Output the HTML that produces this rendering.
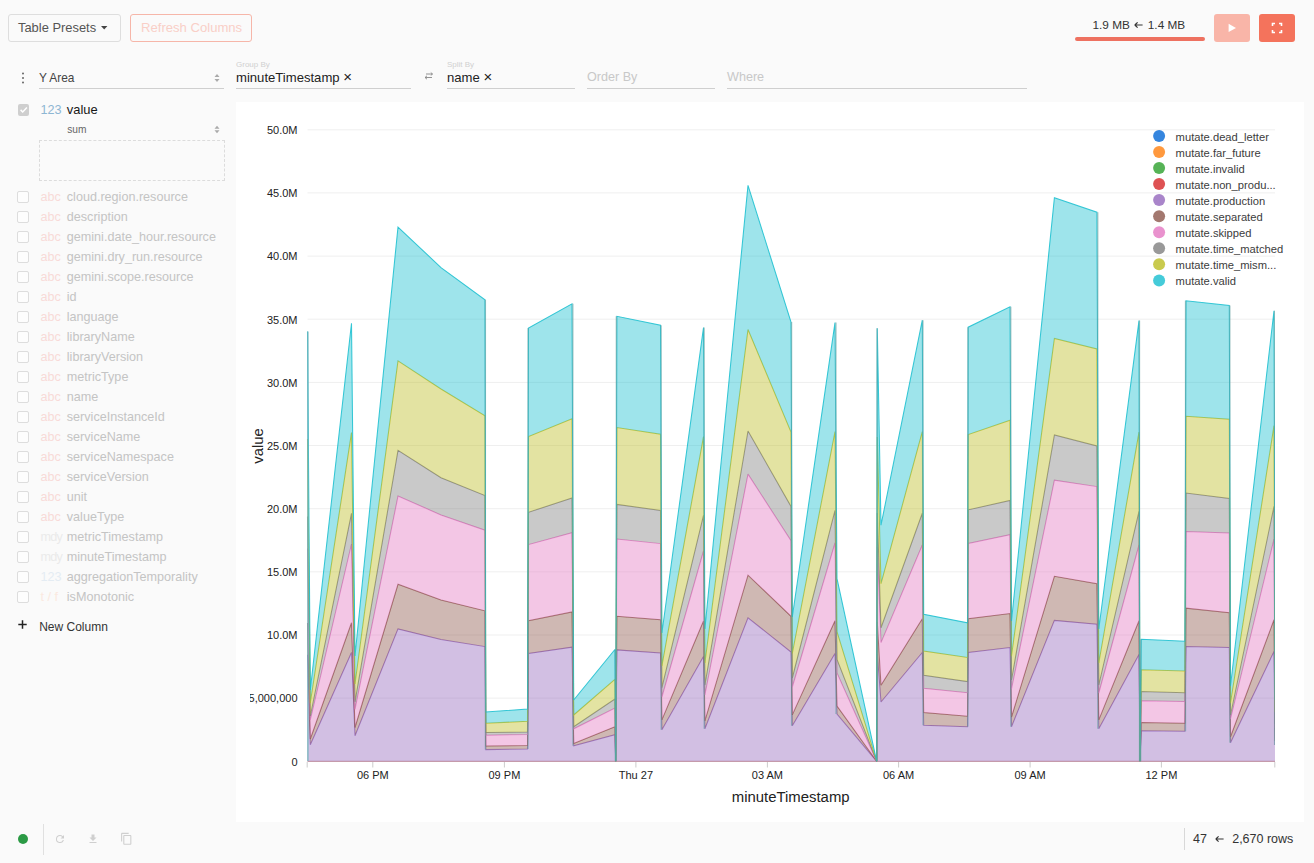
<!DOCTYPE html>
<html><head><meta charset="utf-8"><title>Perspective</title>
<style>
html,body{margin:0;padding:0}
body{width:1314px;height:863px;overflow:hidden;background:#fafafa;font-family:"Liberation Sans",sans-serif;position:relative;color:#333}
.abs,.cb,.ty,.cn{position:absolute}
#chartbg{position:absolute;left:236px;top:101.5px;width:1068px;height:720.5px;background:#fff}
.ax{font-family:"Liberation Sans",sans-serif;font-size:11px;fill:#222}
.ttl{font-family:"Liberation Sans",sans-serif;font-size:14.9px;fill:#222}
.lg{font-family:"Liberation Sans",sans-serif;font-size:11.2px;fill:#3c3c3c}
.btn{position:absolute;box-sizing:border-box;top:14px;height:27.6px;border-radius:3px;font-size:12.9px;line-height:25px;white-space:nowrap}
.cb{left:17.2px;width:9.5px;height:9.5px;border:1px solid #dddddd;border-radius:2px;background:#fdfdfd}
.ty{left:40.5px;font-size:12.6px;line-height:16px;white-space:nowrap}
.cn{left:66.8px;font-size:12.6px;line-height:16px;color:#c4c4c4;white-space:nowrap}
.tabc{color:#f8dad8} .tmdy{color:#eaeaea;letter-spacing:-0.8px} .t123{color:#e4ecf3} .ttf{color:#fbe9e0}
.ul{position:absolute;height:1px;background:#cfcfcf}
.lab{position:absolute;font-size:8px;color:#d0d0d0;white-space:nowrap;line-height:10px}
.pill{position:absolute;font-size:13.1px;color:#222;white-space:nowrap;line-height:16px}
.ph{position:absolute;font-size:12.6px;color:#c8c8c8;white-space:nowrap;line-height:16px}
</style></head><body>
<div id="chartbg"></div>
<!-- top bar -->
<div class="btn" style="left:7.5px;width:113px;border:1px solid #dedede;color:#555;padding-left:9.5px">Table Presets<svg width="7" height="4" style="display:inline-block;margin-left:5px;vertical-align:2px"><path d="M0,0 H6.4 L3.2,3.6 Z" fill="#444"/></svg></div>
<div class="btn" style="left:130px;width:122px;border:1px solid #f6b6a9;color:#f9cfc7;padding-left:10px;font-size:13.1px">Refresh Columns</div>
<div class="abs" style="left:1092.5px;top:17px;font-size:11.8px;color:#333;white-space:nowrap;line-height:16px">1.9 MB <svg width="9" height="8" viewBox="0 0 9 8" style="display:inline-block;vertical-align:0px;margin:0 1.2px"><path d="M0.8,4 H8.6 M0.8,4 L3.6,1.4 M0.8,4 L3.6,6.6" stroke="#333" stroke-width="1.2" fill="none"/></svg> 1.4 MB</div>
<div class="abs" style="left:1075px;top:37px;width:130px;height:4px;border-radius:2px;background:#ee7160"></div>
<div class="abs" style="left:1214px;top:14px;width:36px;height:28px;border-radius:3px;background:#f9b5a8"><svg width="36" height="28" style="position:absolute;left:0;top:0"><path d="M14.6,9.8 L22,13.9 L14.6,18 Z" fill="#fff"/></svg></div>
<div class="abs" style="left:1259px;top:14px;width:36px;height:28px;border-radius:3px;background:#f4735c"><svg width="36" height="28" style="position:absolute;left:0;top:0"><path d="M13.5,12 V9.5 H16 M20,9.5 H22.5 V12 M22.5,16 V18.5 H20 M16,18.5 H13.5 V16" fill="none" stroke="#fff" stroke-width="1.6"/></svg></div>
<!-- config row -->
<svg class="abs" style="left:20px;top:72px" width="6" height="12"><circle cx="3" cy="1.5" r="1" fill="#666"/><circle cx="3" cy="6" r="1" fill="#666"/><circle cx="3" cy="10.5" r="1" fill="#666"/></svg>
<div class="pill" style="left:39px;top:69.5px;font-size:11.9px;color:#444">Y Area</div>
<svg class="abs" style="left:214px;top:73px" width="6" height="10"><path d="M0.5,4 L3,1 L5.5,4 Z M0.5,6 L3,9 L5.5,6 Z" fill="#aaa"/></svg>
<div class="ul" style="left:39px;top:88px;width:185px"></div>
<div class="lab" style="left:236px;top:59.5px">Group By</div>
<div class="pill" style="left:236px;top:68.5px">minuteTimestamp <span style="font-size:15px;position:relative;top:0.5px">&#215;</span></div>
<div class="ul" style="left:236px;top:88px;width:175px"></div>
<svg class="abs" style="left:423px;top:71px" width="11" height="10"><path d="M2,6.5 H9 M2,6.5 L4,4.8 M2,6.5 L4,8.2" stroke="#888" stroke-width="0.9" fill="none"/><path d="M3,3 H9.5 M9.5,3 L7.8,1.6 M9.5,3 L7.8,4.4" stroke="#888" stroke-width="0.9" fill="none"/></svg>
<div class="lab" style="left:447px;top:59.5px">Split By</div>
<div class="pill" style="left:447px;top:68.5px">name <span style="font-size:15px;position:relative;top:0.5px">&#215;</span></div>
<div class="ul" style="left:447px;top:88px;width:127.5px"></div>
<div class="ph" style="left:587px;top:68.5px">Order By</div>
<div class="ul" style="left:587px;top:88px;width:127.5px"></div>
<div class="ph" style="left:727px;top:68.5px">Where</div>
<div class="ul" style="left:727px;top:88px;width:300px"></div>
<!-- active column -->
<div class="abs" style="left:17.5px;top:104.3px;width:11.4px;height:11.4px;border-radius:2px;background:#cfcfcf"><svg width="11.4" height="11.4" style="position:absolute;left:0;top:0"><path d="M2.6,5.9 L4.7,8 L8.9,3.5" fill="none" stroke="#fff" stroke-width="1.5"/></svg></div>
<div class="ty" style="top:101.7px;color:#8db6d3">123</div>
<div class="cn" style="top:101.7px;color:#161616;font-size:12.9px">value</div>
<div class="abs" style="left:67.2px;top:123px;font-size:10.2px;color:#666;line-height:13px">sum</div>
<svg class="abs" style="left:213.5px;top:125px" width="6" height="9"><path d="M0.5,3.7 L3,0.8 L5.5,3.7 Z M0.5,5.3 L3,8.2 L5.5,5.3 Z" fill="#aaa"/></svg>
<div class="abs" style="left:39px;top:140.3px;width:183.5px;height:38.3px;border:1px dashed #dcdcdc"></div>
<div class="cb" style="top:191.0px"></div><div class="ty tabc" style="top:188.5px">abc</div><div class="cn" style="top:188.5px">cloud.region.resource</div><div class="cb" style="top:211.0px"></div><div class="ty tabc" style="top:208.5px">abc</div><div class="cn" style="top:208.5px">description</div><div class="cb" style="top:231.0px"></div><div class="ty tabc" style="top:228.5px">abc</div><div class="cn" style="top:228.5px">gemini.date_hour.resource</div><div class="cb" style="top:251.0px"></div><div class="ty tabc" style="top:248.5px">abc</div><div class="cn" style="top:248.5px">gemini.dry_run.resource</div><div class="cb" style="top:271.0px"></div><div class="ty tabc" style="top:268.5px">abc</div><div class="cn" style="top:268.5px">gemini.scope.resource</div><div class="cb" style="top:291.0px"></div><div class="ty tabc" style="top:288.5px">abc</div><div class="cn" style="top:288.5px">id</div><div class="cb" style="top:311.0px"></div><div class="ty tabc" style="top:308.5px">abc</div><div class="cn" style="top:308.5px">language</div><div class="cb" style="top:331.0px"></div><div class="ty tabc" style="top:328.5px">abc</div><div class="cn" style="top:328.5px">libraryName</div><div class="cb" style="top:351.0px"></div><div class="ty tabc" style="top:348.5px">abc</div><div class="cn" style="top:348.5px">libraryVersion</div><div class="cb" style="top:371.0px"></div><div class="ty tabc" style="top:368.5px">abc</div><div class="cn" style="top:368.5px">metricType</div><div class="cb" style="top:391.0px"></div><div class="ty tabc" style="top:388.5px">abc</div><div class="cn" style="top:388.5px">name</div><div class="cb" style="top:411.0px"></div><div class="ty tabc" style="top:408.5px">abc</div><div class="cn" style="top:408.5px">serviceInstanceId</div><div class="cb" style="top:431.0px"></div><div class="ty tabc" style="top:428.5px">abc</div><div class="cn" style="top:428.5px">serviceName</div><div class="cb" style="top:451.0px"></div><div class="ty tabc" style="top:448.5px">abc</div><div class="cn" style="top:448.5px">serviceNamespace</div><div class="cb" style="top:471.0px"></div><div class="ty tabc" style="top:468.5px">abc</div><div class="cn" style="top:468.5px">serviceVersion</div><div class="cb" style="top:491.0px"></div><div class="ty tabc" style="top:488.5px">abc</div><div class="cn" style="top:488.5px">unit</div><div class="cb" style="top:511.0px"></div><div class="ty tabc" style="top:508.5px">abc</div><div class="cn" style="top:508.5px">valueType</div><div class="cb" style="top:531.0px"></div><div class="ty tmdy" style="top:528.5px">mdy</div><div class="cn" style="top:528.5px">metricTimestamp</div><div class="cb" style="top:551.0px"></div><div class="ty tmdy" style="top:548.5px">mdy</div><div class="cn" style="top:548.5px">minuteTimestamp</div><div class="cb" style="top:571.0px"></div><div class="ty t123" style="top:568.5px">123</div><div class="cn" style="top:568.5px">aggregationTemporality</div><div class="cb" style="top:591.0px"></div><div class="ty ttf" style="top:588.5px">t / f</div><div class="cn" style="top:588.5px">isMonotonic</div>
<svg class="abs" style="left:17.5px;top:619.5px" width="9" height="9"><path d="M4.5,0.3 V8.7 M0.3,4.5 H8.7" stroke="#222" stroke-width="1.5"/></svg>
<div class="abs" style="left:39.2px;top:618.6px;font-size:12px;line-height:16px;color:#333;white-space:nowrap">New Column</div>
<!-- status bar -->
<div class="abs" style="left:18px;top:833.6px;width:10.2px;height:10.2px;border-radius:50%;background:#2b9a45"></div>
<div class="abs" style="left:43px;top:824px;width:1px;height:31px;background:#e0e0e0"></div>
<svg class="abs" style="left:54px;top:832.7px" width="12" height="12" viewBox="0 0 24 24"><path d="M17.65 6.35A7.95 7.95 0 0 0 12 4a8 8 0 1 0 7.73 10h-2.08A6 6 0 1 1 12 6c1.66 0 3.14.69 4.22 1.78L13 11h7V4l-2.35 2.35z" fill="#cfcfcf"/></svg>
<svg class="abs" style="left:86.8px;top:832.7px" width="12" height="12" viewBox="0 0 24 24"><path d="M19 9h-4V3H9v6H5l7 7 7-7zM5 18v2h14v-2H5z" fill="#cfcfcf"/></svg>
<svg class="abs" style="left:119.5px;top:832px" width="13" height="13.5" viewBox="0 0 24 24"><path d="M16 1H4c-1.1 0-2 .9-2 2v14h2V3h12V1zm3 4H8c-1.1 0-2 .9-2 2v14c0 1.1.9 2 2 2h11c1.1 0 2-.9 2-2V7c0-1.1-.9-2-2-2zm0 16H8V7h11v14z" fill="#cfcfcf"/></svg>
<div class="abs" style="left:1183.5px;top:828px;width:1px;height:22px;background:#d8d8d8"></div>
<div class="abs" style="left:1193px;top:831px;font-size:12.5px;line-height:16px;color:#333;white-space:pre">47  <svg width="9" height="8" viewBox="0 0 9 8" style="display:inline-block;vertical-align:0px;margin:0 1.2px"><path d="M0.8,4 H8.6 M0.8,4 L3.6,1.4 M0.8,4 L3.6,6.6" stroke="#333" stroke-width="1.1" fill="none"/></svg>  2,670 rows</div>
<svg width="1314" height="863" viewBox="0 0 1314 863" style="position:absolute;left:0;top:0">
<line x1="307.5" x2="1275" y1="698.1" y2="698.1" stroke="#efefef" stroke-width="1"/>
<line x1="307.5" x2="1275" y1="635.0" y2="635.0" stroke="#efefef" stroke-width="1"/>
<line x1="307.5" x2="1275" y1="571.8" y2="571.8" stroke="#efefef" stroke-width="1"/>
<line x1="307.5" x2="1275" y1="508.7" y2="508.7" stroke="#efefef" stroke-width="1"/>
<line x1="307.5" x2="1275" y1="445.5" y2="445.5" stroke="#efefef" stroke-width="1"/>
<line x1="307.5" x2="1275" y1="382.4" y2="382.4" stroke="#efefef" stroke-width="1"/>
<line x1="307.5" x2="1275" y1="319.2" y2="319.2" stroke="#efefef" stroke-width="1"/>
<line x1="307.5" x2="1275" y1="256.1" y2="256.1" stroke="#efefef" stroke-width="1"/>
<line x1="307.5" x2="1275" y1="192.9" y2="192.9" stroke="#efefef" stroke-width="1"/>
<line x1="307.5" x2="1275" y1="129.8" y2="129.8" stroke="#efefef" stroke-width="1"/>
<clipPath id="pc"><rect x="300" y="100" width="975" height="670"/></clipPath><g clip-path="url(#pc)">
<path d="M307.5,761.3 L1275.2,761.3" stroke="#c08a94" stroke-width="1" fill="none"/>
<path d="M307.5,654.7 L310.3,744.7 L351.5,652.5 L355.0,735.8 L398.0,628.9 L441.0,639.6 L485.0,646.6 L485.8,749.6 L527.5,749.0 L528.5,653.5 L572.0,647.2 L573.7,745.7 L614.9,734.8 L615.7,761.3 L616.9,649.9 L660.5,653.1 L661.9,729.8 L703.5,656.5 L704.9,728.8 L748.0,617.8 L791.0,652.0 L792.3,725.8 L835.0,653.5 L837.0,714.0 L876.7,761.3 L877.3,654.0 L881.0,702.0 L922.3,652.5 L923.7,725.2 L967.5,726.8 L968.2,652.5 L1010.0,647.6 L1011.5,726.8 L1054.4,620.4 L1096.9,624.2 L1098.8,728.8 L1139.0,654.5 L1140.0,761.3 L1141.3,730.8 L1184.9,731.2 L1186.0,646.6 L1229.3,647.6 L1230.5,742.7 L1274.0,651.5 L1275.2,745.0 L1275.2,761.3 L1274.0,761.3 L1230.5,761.3 L1229.3,761.3 L1186.0,761.3 L1184.9,761.3 L1141.3,761.3 L1140.0,761.3 L1139.0,761.3 L1098.8,761.3 L1096.9,761.3 L1054.4,761.3 L1011.5,761.3 L1010.0,761.3 L968.2,761.3 L967.5,761.3 L923.7,761.3 L922.3,761.3 L881.0,761.3 L877.3,761.3 L876.7,761.3 L837.0,761.3 L835.0,761.3 L792.3,761.3 L791.0,761.3 L748.0,761.3 L704.9,761.3 L703.5,761.3 L661.9,761.3 L660.5,761.3 L616.9,761.3 L615.7,761.3 L614.9,761.3 L573.7,761.3 L572.0,761.3 L528.5,761.3 L527.5,761.3 L485.8,761.3 L485.0,761.3 L441.0,761.3 L398.0,761.3 L355.0,761.3 L351.5,761.3 L310.3,761.3 L307.5,761.3 Z" fill="#9467bd" fill-opacity="0.42" stroke="none"/>
<path d="M307.5,654.7 L310.3,744.7 L351.5,652.5 L355.0,735.8 L398.0,628.9 L441.0,639.6 L485.0,646.6 L485.8,749.6 L527.5,749.0 L528.5,653.5 L572.0,647.2 L573.7,745.7 L614.9,734.8 L615.7,761.3 L616.9,649.9 L660.5,653.1 L661.9,729.8 L703.5,656.5 L704.9,728.8 L748.0,617.8 L791.0,652.0 L792.3,725.8 L835.0,653.5 L837.0,714.0 L876.7,761.3 L877.3,654.0 L881.0,702.0 L922.3,652.5 L923.7,725.2 L967.5,726.8 L968.2,652.5 L1010.0,647.6 L1011.5,726.8 L1054.4,620.4 L1096.9,624.2 L1098.8,728.8 L1139.0,654.5 L1140.0,761.3 L1141.3,730.8 L1184.9,731.2 L1186.0,646.6 L1229.3,647.6 L1230.5,742.7 L1274.0,651.5 L1275.2,745.0" fill="none" stroke="#9467bd" stroke-opacity="0.85" stroke-width="1.05" stroke-linejoin="miter" stroke-miterlimit="2.5"/>
<path d="M307.5,623.0 L310.3,739.0 L351.5,622.8 L355.0,727.5 L398.0,584.3 L441.0,600.1 L485.0,610.8 L485.8,746.0 L527.5,745.5 L528.5,620.8 L572.0,611.9 L573.7,743.5 L614.9,726.8 L615.7,761.3 L616.9,616.3 L660.5,619.8 L661.9,719.9 L703.5,621.0 L704.9,720.9 L748.0,575.2 L791.0,616.3 L792.3,714.9 L835.0,620.8 L837.0,706.0 L876.7,761.3 L877.3,622.0 L881.0,685.2 L922.3,618.8 L923.7,712.4 L967.5,716.3 L968.2,618.8 L1010.0,613.5 L1011.5,717.0 L1054.4,576.3 L1096.9,583.7 L1098.8,719.9 L1139.0,620.8 L1140.0,761.3 L1141.3,722.5 L1184.9,723.3 L1186.0,608.2 L1229.3,612.7 L1230.5,736.7 L1274.0,619.8 L1275.2,741.0 L1275.2,745.0 L1274.0,651.5 L1230.5,742.7 L1229.3,647.6 L1186.0,646.6 L1184.9,731.2 L1141.3,730.8 L1140.0,761.3 L1139.0,654.5 L1098.8,728.8 L1096.9,624.2 L1054.4,620.4 L1011.5,726.8 L1010.0,647.6 L968.2,652.5 L967.5,726.8 L923.7,725.2 L922.3,652.5 L881.0,702.0 L877.3,654.0 L876.7,761.3 L837.0,714.0 L835.0,653.5 L792.3,725.8 L791.0,652.0 L748.0,617.8 L704.9,728.8 L703.5,656.5 L661.9,729.8 L660.5,653.1 L616.9,649.9 L615.7,761.3 L614.9,734.8 L573.7,745.7 L572.0,647.2 L528.5,653.5 L527.5,749.0 L485.8,749.6 L485.0,646.6 L441.0,639.6 L398.0,628.9 L355.0,735.8 L351.5,652.5 L310.3,744.7 L307.5,654.7 Z" fill="#8c564b" fill-opacity="0.42" stroke="none"/>
<path d="M307.5,623.0 L310.3,739.0 L351.5,622.8 L355.0,727.5 L398.0,584.3 L441.0,600.1 L485.0,610.8 L485.8,746.0 L527.5,745.5 L528.5,620.8 L572.0,611.9 L573.7,743.5 L614.9,726.8 L615.7,761.3 L616.9,616.3 L660.5,619.8 L661.9,719.9 L703.5,621.0 L704.9,720.9 L748.0,575.2 L791.0,616.3 L792.3,714.9 L835.0,620.8 L837.0,706.0 L876.7,761.3 L877.3,622.0 L881.0,685.2 L922.3,618.8 L923.7,712.4 L967.5,716.3 L968.2,618.8 L1010.0,613.5 L1011.5,717.0 L1054.4,576.3 L1096.9,583.7 L1098.8,719.9 L1139.0,620.8 L1140.0,761.3 L1141.3,722.5 L1184.9,723.3 L1186.0,608.2 L1229.3,612.7 L1230.5,736.7 L1274.0,619.8 L1275.2,741.0" fill="none" stroke="#8c564b" stroke-opacity="0.85" stroke-width="1.05" stroke-linejoin="miter" stroke-miterlimit="2.5"/>
<path d="M307.5,548.4 L310.3,720.0 L351.5,544.0 L355.0,709.3 L398.0,496.1 L441.0,514.9 L485.0,530.2 L485.8,735.2 L527.5,734.5 L528.5,544.6 L572.0,532.7 L573.7,728.8 L614.9,708.0 L615.7,761.3 L616.9,539.1 L660.5,543.6 L661.9,697.0 L703.5,551.0 L704.9,695.0 L748.0,474.1 L791.0,540.7 L792.3,687.0 L835.0,543.0 L837.0,673.0 L876.7,761.3 L877.3,547.0 L881.0,642.6 L922.3,545.0 L923.7,688.2 L967.5,692.7 L968.2,543.4 L1010.0,534.7 L1011.5,689.0 L1054.4,480.2 L1096.9,486.6 L1098.8,693.0 L1139.0,545.0 L1140.0,761.3 L1141.3,700.7 L1184.9,701.5 L1186.0,531.6 L1229.3,533.1 L1230.5,719.0 L1274.0,539.1 L1275.2,728.0 L1275.2,741.0 L1274.0,619.8 L1230.5,736.7 L1229.3,612.7 L1186.0,608.2 L1184.9,723.3 L1141.3,722.5 L1140.0,761.3 L1139.0,620.8 L1098.8,719.9 L1096.9,583.7 L1054.4,576.3 L1011.5,717.0 L1010.0,613.5 L968.2,618.8 L967.5,716.3 L923.7,712.4 L922.3,618.8 L881.0,685.2 L877.3,622.0 L876.7,761.3 L837.0,706.0 L835.0,620.8 L792.3,714.9 L791.0,616.3 L748.0,575.2 L704.9,720.9 L703.5,621.0 L661.9,719.9 L660.5,619.8 L616.9,616.3 L615.7,761.3 L614.9,726.8 L573.7,743.5 L572.0,611.9 L528.5,620.8 L527.5,745.5 L485.8,746.0 L485.0,610.8 L441.0,600.1 L398.0,584.3 L355.0,727.5 L351.5,622.8 L310.3,739.0 L307.5,623.0 Z" fill="#e377c2" fill-opacity="0.42" stroke="none"/>
<path d="M307.5,548.4 L310.3,720.0 L351.5,544.0 L355.0,709.3 L398.0,496.1 L441.0,514.9 L485.0,530.2 L485.8,735.2 L527.5,734.5 L528.5,544.6 L572.0,532.7 L573.7,728.8 L614.9,708.0 L615.7,761.3 L616.9,539.1 L660.5,543.6 L661.9,697.0 L703.5,551.0 L704.9,695.0 L748.0,474.1 L791.0,540.7 L792.3,687.0 L835.0,543.0 L837.0,673.0 L876.7,761.3 L877.3,547.0 L881.0,642.6 L922.3,545.0 L923.7,688.2 L967.5,692.7 L968.2,543.4 L1010.0,534.7 L1011.5,689.0 L1054.4,480.2 L1096.9,486.6 L1098.8,693.0 L1139.0,545.0 L1140.0,761.3 L1141.3,700.7 L1184.9,701.5 L1186.0,531.6 L1229.3,533.1 L1230.5,719.0 L1274.0,539.1 L1275.2,728.0" fill="none" stroke="#e377c2" stroke-opacity="0.85" stroke-width="1.05" stroke-linejoin="miter" stroke-miterlimit="2.5"/>
<path d="M307.5,516.5 L310.3,716.0 L351.5,513.3 L355.0,701.8 L398.0,450.3 L441.0,477.7 L485.0,495.5 L485.8,732.4 L527.5,732.0 L528.5,512.3 L572.0,497.9 L573.7,726.8 L614.9,699.1 L615.7,761.3 L616.9,504.4 L660.5,510.4 L661.9,687.7 L703.5,515.3 L704.9,685.0 L748.0,431.0 L791.0,506.4 L792.3,678.0 L835.0,510.4 L837.0,659.5 L876.7,761.3 L877.3,513.0 L881.0,627.7 L922.3,513.3 L923.7,675.3 L967.5,681.6 L968.2,509.8 L1010.0,500.4 L1011.5,680.0 L1054.4,435.0 L1096.9,446.0 L1098.8,685.0 L1139.0,511.3 L1140.0,761.3 L1141.3,691.6 L1184.9,692.7 L1186.0,493.1 L1229.3,498.5 L1230.5,715.0 L1274.0,506.4 L1275.2,724.0 L1275.2,728.0 L1274.0,539.1 L1230.5,719.0 L1229.3,533.1 L1186.0,531.6 L1184.9,701.5 L1141.3,700.7 L1140.0,761.3 L1139.0,545.0 L1098.8,693.0 L1096.9,486.6 L1054.4,480.2 L1011.5,689.0 L1010.0,534.7 L968.2,543.4 L967.5,692.7 L923.7,688.2 L922.3,545.0 L881.0,642.6 L877.3,547.0 L876.7,761.3 L837.0,673.0 L835.0,543.0 L792.3,687.0 L791.0,540.7 L748.0,474.1 L704.9,695.0 L703.5,551.0 L661.9,697.0 L660.5,543.6 L616.9,539.1 L615.7,761.3 L614.9,708.0 L573.7,728.8 L572.0,532.7 L528.5,544.6 L527.5,734.5 L485.8,735.2 L485.0,530.2 L441.0,514.9 L398.0,496.1 L355.0,709.3 L351.5,544.0 L310.3,720.0 L307.5,548.4 Z" fill="#7f7f7f" fill-opacity="0.42" stroke="none"/>
<path d="M307.5,516.5 L310.3,716.0 L351.5,513.3 L355.0,701.8 L398.0,450.3 L441.0,477.7 L485.0,495.5 L485.8,732.4 L527.5,732.0 L528.5,512.3 L572.0,497.9 L573.7,726.8 L614.9,699.1 L615.7,761.3 L616.9,504.4 L660.5,510.4 L661.9,687.7 L703.5,515.3 L704.9,685.0 L748.0,431.0 L791.0,506.4 L792.3,678.0 L835.0,510.4 L837.0,659.5 L876.7,761.3 L877.3,513.0 L881.0,627.7 L922.3,513.3 L923.7,675.3 L967.5,681.6 L968.2,509.8 L1010.0,500.4 L1011.5,680.0 L1054.4,435.0 L1096.9,446.0 L1098.8,685.0 L1139.0,511.3 L1140.0,761.3 L1141.3,691.6 L1184.9,692.7 L1186.0,493.1 L1229.3,498.5 L1230.5,715.0 L1274.0,506.4 L1275.2,724.0" fill="none" stroke="#7f7f7f" stroke-opacity="0.85" stroke-width="1.05" stroke-linejoin="miter" stroke-miterlimit="2.5"/>
<path d="M307.5,439.0 L310.3,703.0 L351.5,432.6 L355.0,684.0 L398.0,360.9 L441.0,389.0 L485.0,415.8 L485.8,723.3 L527.5,721.3 L528.5,436.6 L572.0,418.7 L573.7,715.0 L614.9,679.3 L615.7,761.3 L616.9,427.6 L660.5,434.2 L661.9,665.8 L703.5,436.6 L704.9,663.0 L748.0,329.5 L791.0,432.0 L792.3,653.5 L835.0,431.6 L837.0,631.7 L876.7,761.3 L877.3,437.0 L881.0,583.7 L922.3,431.6 L923.7,651.1 L967.5,657.5 L968.2,434.6 L1010.0,420.3 L1011.5,656.0 L1054.4,338.5 L1096.9,349.0 L1098.8,663.0 L1139.0,432.2 L1140.0,761.3 L1141.3,669.8 L1184.9,671.0 L1186.0,416.3 L1229.3,419.3 L1230.5,703.0 L1274.0,425.7 L1275.2,712.0 L1275.2,724.0 L1274.0,506.4 L1230.5,715.0 L1229.3,498.5 L1186.0,493.1 L1184.9,692.7 L1141.3,691.6 L1140.0,761.3 L1139.0,511.3 L1098.8,685.0 L1096.9,446.0 L1054.4,435.0 L1011.5,680.0 L1010.0,500.4 L968.2,509.8 L967.5,681.6 L923.7,675.3 L922.3,513.3 L881.0,627.7 L877.3,513.0 L876.7,761.3 L837.0,659.5 L835.0,510.4 L792.3,678.0 L791.0,506.4 L748.0,431.0 L704.9,685.0 L703.5,515.3 L661.9,687.7 L660.5,510.4 L616.9,504.4 L615.7,761.3 L614.9,699.1 L573.7,726.8 L572.0,497.9 L528.5,512.3 L527.5,732.0 L485.8,732.4 L485.0,495.5 L441.0,477.7 L398.0,450.3 L355.0,701.8 L351.5,513.3 L310.3,716.0 L307.5,516.5 Z" fill="#bcbd22" fill-opacity="0.42" stroke="none"/>
<path d="M307.5,439.0 L310.3,703.0 L351.5,432.6 L355.0,684.0 L398.0,360.9 L441.0,389.0 L485.0,415.8 L485.8,723.3 L527.5,721.3 L528.5,436.6 L572.0,418.7 L573.7,715.0 L614.9,679.3 L615.7,761.3 L616.9,427.6 L660.5,434.2 L661.9,665.8 L703.5,436.6 L704.9,663.0 L748.0,329.5 L791.0,432.0 L792.3,653.5 L835.0,431.6 L837.0,631.7 L876.7,761.3 L877.3,437.0 L881.0,583.7 L922.3,431.6 L923.7,651.1 L967.5,657.5 L968.2,434.6 L1010.0,420.3 L1011.5,656.0 L1054.4,338.5 L1096.9,349.0 L1098.8,663.0 L1139.0,432.2 L1140.0,761.3 L1141.3,669.8 L1184.9,671.0 L1186.0,416.3 L1229.3,419.3 L1230.5,703.0 L1274.0,425.7 L1275.2,712.0" fill="none" stroke="#bcbd22" stroke-opacity="0.85" stroke-width="1.05" stroke-linejoin="miter" stroke-miterlimit="2.5"/>
<path d="M307.5,331.5 L310.3,690.0 L351.5,323.2 L355.0,656.0 L398.0,227.0 L441.0,267.6 L485.0,299.8 L485.8,712.0 L527.5,709.0 L528.5,328.0 L572.0,303.8 L573.7,700.0 L614.9,649.5 L615.7,761.3 L616.9,316.3 L660.5,325.2 L661.9,633.0 L703.5,327.6 L704.9,629.0 L748.0,185.4 L791.0,322.0 L792.3,617.0 L835.0,322.6 L837.0,578.7 L876.7,761.3 L877.3,328.2 L881.0,525.2 L922.3,320.2 L923.7,614.3 L967.5,622.8 L968.2,327.2 L1010.0,306.8 L1011.5,621.0 L1054.4,197.7 L1096.9,212.2 L1098.8,629.0 L1139.0,320.6 L1140.0,761.3 L1141.3,639.2 L1184.9,641.2 L1186.0,300.8 L1229.3,305.4 L1230.5,686.0 L1274.0,310.7 L1275.2,700.0 L1275.2,712.0 L1274.0,425.7 L1230.5,703.0 L1229.3,419.3 L1186.0,416.3 L1184.9,671.0 L1141.3,669.8 L1140.0,761.3 L1139.0,432.2 L1098.8,663.0 L1096.9,349.0 L1054.4,338.5 L1011.5,656.0 L1010.0,420.3 L968.2,434.6 L967.5,657.5 L923.7,651.1 L922.3,431.6 L881.0,583.7 L877.3,437.0 L876.7,761.3 L837.0,631.7 L835.0,431.6 L792.3,653.5 L791.0,432.0 L748.0,329.5 L704.9,663.0 L703.5,436.6 L661.9,665.8 L660.5,434.2 L616.9,427.6 L615.7,761.3 L614.9,679.3 L573.7,715.0 L572.0,418.7 L528.5,436.6 L527.5,721.3 L485.8,723.3 L485.0,415.8 L441.0,389.0 L398.0,360.9 L355.0,684.0 L351.5,432.6 L310.3,703.0 L307.5,439.0 Z" fill="#17becf" fill-opacity="0.42" stroke="none"/>
<path d="M307.5,331.5 L310.3,690.0 L351.5,323.2 L355.0,656.0 L398.0,227.0 L441.0,267.6 L485.0,299.8 L485.8,712.0 L527.5,709.0 L528.5,328.0 L572.0,303.8 L573.7,700.0 L614.9,649.5 L615.7,761.3 L616.9,316.3 L660.5,325.2 L661.9,633.0 L703.5,327.6 L704.9,629.0 L748.0,185.4 L791.0,322.0 L792.3,617.0 L835.0,322.6 L837.0,578.7 L876.7,761.3 L877.3,328.2 L881.0,525.2 L922.3,320.2 L923.7,614.3 L967.5,622.8 L968.2,327.2 L1010.0,306.8 L1011.5,621.0 L1054.4,197.7 L1096.9,212.2 L1098.8,629.0 L1139.0,320.6 L1140.0,761.3 L1141.3,639.2 L1184.9,641.2 L1186.0,300.8 L1229.3,305.4 L1230.5,686.0 L1274.0,310.7 L1275.2,700.0" fill="none" stroke="#17becf" stroke-opacity="0.85" stroke-width="1.05" stroke-linejoin="miter" stroke-miterlimit="2.5"/>
<path d="M485.4,299.8 V749.6" stroke="#5f9a9a" stroke-opacity="0.55" stroke-width="1.3" fill="none"/>
<path d="M528.0,328.0 V749.0" stroke="#5f9a9a" stroke-opacity="0.55" stroke-width="1.3" fill="none"/>
<path d="M572.9,303.8 V745.7" stroke="#5f9a9a" stroke-opacity="0.55" stroke-width="1.3" fill="none"/>
<path d="M615.3,649.5 V761.3" stroke="#5f9a9a" stroke-opacity="0.55" stroke-width="1.3" fill="none"/>
<path d="M616.3,316.3 V761.3" stroke="#5f9a9a" stroke-opacity="0.55" stroke-width="1.3" fill="none"/>
<path d="M661.2,325.2 V729.8" stroke="#5f9a9a" stroke-opacity="0.55" stroke-width="1.3" fill="none"/>
<path d="M704.2,327.6 V728.8" stroke="#5f9a9a" stroke-opacity="0.55" stroke-width="1.3" fill="none"/>
<path d="M791.6,322.0 V725.8" stroke="#5f9a9a" stroke-opacity="0.55" stroke-width="1.3" fill="none"/>
<path d="M836.0,322.6 V714.0" stroke="#5f9a9a" stroke-opacity="0.55" stroke-width="1.3" fill="none"/>
<path d="M877.0,328.2 V761.3" stroke="#5f9a9a" stroke-opacity="0.55" stroke-width="1.3" fill="none"/>
<path d="M923.0,320.2 V725.2" stroke="#5f9a9a" stroke-opacity="0.55" stroke-width="1.3" fill="none"/>
<path d="M967.9,327.2 V726.8" stroke="#5f9a9a" stroke-opacity="0.55" stroke-width="1.3" fill="none"/>
<path d="M1010.8,306.8 V726.8" stroke="#5f9a9a" stroke-opacity="0.55" stroke-width="1.3" fill="none"/>
<path d="M1097.8,212.2 V728.8" stroke="#5f9a9a" stroke-opacity="0.55" stroke-width="1.3" fill="none"/>
<path d="M1139.5,320.6 V761.3" stroke="#5f9a9a" stroke-opacity="0.55" stroke-width="1.3" fill="none"/>
<path d="M1140.7,639.2 V761.3" stroke="#5f9a9a" stroke-opacity="0.55" stroke-width="1.3" fill="none"/>
<path d="M1185.5,300.8 V731.2" stroke="#5f9a9a" stroke-opacity="0.55" stroke-width="1.3" fill="none"/>
<path d="M1229.9,305.4 V742.7" stroke="#5f9a9a" stroke-opacity="0.55" stroke-width="1.3" fill="none"/>
<path d="M1274.6,310.7 V745.0" stroke="#5f9a9a" stroke-opacity="0.55" stroke-width="1.3" fill="none"/>
<path d="M307.9,331.5 V761" stroke="#6fb2ba" stroke-width="1.2" fill="none"/>
</g>
<line x1="307.2" x2="307.2" y1="762" y2="767.5" stroke="#cccccc" stroke-width="1"/>
<line x1="372.8" x2="372.8" y1="762" y2="767.5" stroke="#cccccc" stroke-width="1"/>
<text x="372.8" y="779.3" text-anchor="middle" class="ax">06 PM</text>
<line x1="504.4" x2="504.4" y1="762" y2="767.5" stroke="#cccccc" stroke-width="1"/>
<text x="504.4" y="779.3" text-anchor="middle" class="ax">09 PM</text>
<line x1="635.9" x2="635.9" y1="762" y2="767.5" stroke="#cccccc" stroke-width="1"/>
<text x="635.9" y="779.3" text-anchor="middle" class="ax">Thu 27</text>
<line x1="767.4" x2="767.4" y1="762" y2="767.5" stroke="#cccccc" stroke-width="1"/>
<text x="767.4" y="779.3" text-anchor="middle" class="ax">03 AM</text>
<line x1="898.6" x2="898.6" y1="762" y2="767.5" stroke="#cccccc" stroke-width="1"/>
<text x="898.6" y="779.3" text-anchor="middle" class="ax">06 AM</text>
<line x1="1030.1" x2="1030.1" y1="762" y2="767.5" stroke="#cccccc" stroke-width="1"/>
<text x="1030.1" y="779.3" text-anchor="middle" class="ax">09 AM</text>
<line x1="1161.4" x2="1161.4" y1="762" y2="767.5" stroke="#cccccc" stroke-width="1"/>
<text x="1161.4" y="779.3" text-anchor="middle" class="ax">12 PM</text>
<line x1="1274.8" x2="1274.8" y1="762" y2="767.5" stroke="#cccccc" stroke-width="1"/>
<clipPath id="yc"><rect x="250" y="100" width="55" height="700"/></clipPath>
<g clip-path="url(#yc)">
<text x="297.5" y="765.6" text-anchor="end" class="ax">0</text>
<text x="297.5" y="702.4" text-anchor="end" class="ax">5,000,000</text>
<text x="297.5" y="639.3" text-anchor="end" class="ax">10.0M</text>
<text x="297.5" y="576.1" text-anchor="end" class="ax">15.0M</text>
<text x="297.5" y="513.0" text-anchor="end" class="ax">20.0M</text>
<text x="297.5" y="449.8" text-anchor="end" class="ax">25.0M</text>
<text x="297.5" y="386.7" text-anchor="end" class="ax">30.0M</text>
<text x="297.5" y="323.5" text-anchor="end" class="ax">35.0M</text>
<text x="297.5" y="260.4" text-anchor="end" class="ax">40.0M</text>
<text x="297.5" y="197.2" text-anchor="end" class="ax">45.0M</text>
<text x="297.5" y="134.1" text-anchor="end" class="ax">50.0M</text>
</g>
<text x="790.7" y="801.8" text-anchor="middle" class="ttl">minuteTimestamp</text>
<text transform="translate(263,446) rotate(-90)" text-anchor="middle" class="ttl">value</text>
<circle cx="1159.1" cy="135.9" r="6" fill="#0366d6" fill-opacity="0.8"/>
<text x="1175.6" y="140.5" class="lg">mutate.dead_letter</text>
<circle cx="1159.1" cy="152.0" r="6" fill="#ff7f0e" fill-opacity="0.8"/>
<text x="1175.6" y="156.6" class="lg">mutate.far_future</text>
<circle cx="1159.1" cy="168.0" r="6" fill="#2ca02c" fill-opacity="0.8"/>
<text x="1175.6" y="172.6" class="lg">mutate.invalid</text>
<circle cx="1159.1" cy="184.1" r="6" fill="#d62728" fill-opacity="0.8"/>
<text x="1175.6" y="188.7" class="lg">mutate.non_produ...</text>
<circle cx="1159.1" cy="200.1" r="6" fill="#9467bd" fill-opacity="0.8"/>
<text x="1175.6" y="204.7" class="lg">mutate.production</text>
<circle cx="1159.1" cy="216.2" r="6" fill="#8c564b" fill-opacity="0.8"/>
<text x="1175.6" y="220.8" class="lg">mutate.separated</text>
<circle cx="1159.1" cy="232.2" r="6" fill="#e377c2" fill-opacity="0.8"/>
<text x="1175.6" y="236.8" class="lg">mutate.skipped</text>
<circle cx="1159.1" cy="248.2" r="6" fill="#7f7f7f" fill-opacity="0.8"/>
<text x="1175.6" y="252.8" class="lg">mutate.time_matched</text>
<circle cx="1159.1" cy="264.3" r="6" fill="#bcbd22" fill-opacity="0.8"/>
<text x="1175.6" y="268.9" class="lg">mutate.time_mism...</text>
<circle cx="1159.1" cy="280.4" r="6" fill="#17becf" fill-opacity="0.8"/>
<text x="1175.6" y="285.0" class="lg">mutate.valid</text>
</svg>
</body></html>
